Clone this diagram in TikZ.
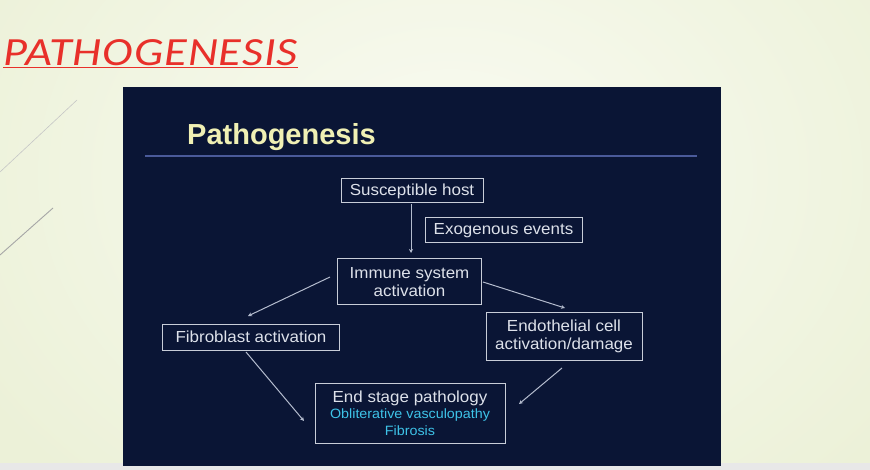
\documentclass[tikz,border=0pt]{standalone}
\usepackage{fontspec}
\setmainfont{Liberation Sans}
\newfontfamily\titlefont[FakeStretch=1.16,LetterSpace=2.5]{Carlito}
\newfontfamily\boxfont[FakeStretch=1.06]{Liberation Sans}
\usetikzlibrary{arrows.meta}
\definecolor{bgcream}{HTML}{ECF1D8}
\definecolor{bglight}{HTML}{F9FBF2}
\definecolor{panel}{HTML}{0A1535}
\definecolor{boxtext}{HTML}{DDE1EA}
\definecolor{linegray}{HTML}{B4BCCE}
\definecolor{ruleblue}{HTML}{4A5A9A}
\definecolor{ptitle}{HTML}{F0F0B4}
\definecolor{cyantext}{HTML}{3EC3E8}
\definecolor{redtitle}{HTML}{E8302A}
\tikzset{
  box/.style={draw=boxtext!90!panel, line width=1pt, text=boxtext, font=\boxfont\fontsize{16}{18.5}\selectfont, inner sep=0pt, align=center},
  conn/.style={draw=linegray, line width=1pt, -{Stealth[length=4pt,width=4pt]}},
}
\begin{document}
\begin{tikzpicture}[x=1pt,y=-1pt]
\useasboundingbox (0,0) rectangle (870,470);
% background
\shade[inner color=bglight, outer color=bgcream] (-100,-250) rectangle (1000,600);
\fill[gray!18] (0,463) rectangle (870,470);
% decorative lines
\draw[gray!45, line width=0.6pt] (0,172) -- (77,100);
\draw[gray!70, line width=0.9pt] (0,255) -- (53,208);
% slide title
\node[anchor=base west, inner sep=0pt, text=redtitle, font=\titlefont\itshape\fontsize{40}{44}\selectfont] (ttl) at (3,66) {\underline{PATHOGENESIS}};
% panel
\fill[panel] (123,87) rectangle (721,466);
\node[anchor=base west, inner sep=0pt, text=ptitle, font=\bfseries\fontsize{29}{33}\selectfont] (ptl) at (187,145) {Pathogenesis};
\draw[ruleblue, line width=2.8pt] (145,156) -- (697,156);
% boxes
\node[box, minimum width=142pt, minimum height=24pt] (host) at (412,191) {Susceptible host};
\node[box, minimum width=157pt, minimum height=25pt] (exo) at (503.5,230.5) {Exogenous events};
\node[box, minimum width=144pt, minimum height=46pt] (imm) at (409.5,282) {Immune system\\activation};
\node[box, minimum width=177pt, minimum height=26pt] (fib) at (251,337) {Fibroblast activation};
\node[box, minimum width=156pt, minimum height=47pt] (endo) at (564,336.5) {Endothelial cell\\activation/damage};
\node[box, minimum width=190pt, minimum height=60pt] (end) at (410,413) {End stage pathology\\[-2pt]{\color{cyantext}\fontsize{13.5}{15}\selectfont Obliterative vasculopathy}\\[-2pt]{\color{cyantext}\fontsize{13.5}{15}\selectfont Fibrosis}};
% connectors
\coordinate (a1) at (411,204); \coordinate (a2) at (411,253);
\draw[conn] (a1) -- (a2);
\coordinate (b1) at (330,277); \coordinate (b2) at (248,316);
\draw[conn] (b1) -- (b2);
\coordinate (c1) at (483,282); \coordinate (c2) at (565,308);
\draw[conn] (c1) -- (c2);
\coordinate (d1) at (246,352); \coordinate (d2) at (304,421);
\draw[conn] (d1) -- (d2);
\coordinate (e1) at (562,368); \coordinate (e2) at (519,404);
\draw[conn] (e1) -- (e2);
\end{tikzpicture}
\end{document}
